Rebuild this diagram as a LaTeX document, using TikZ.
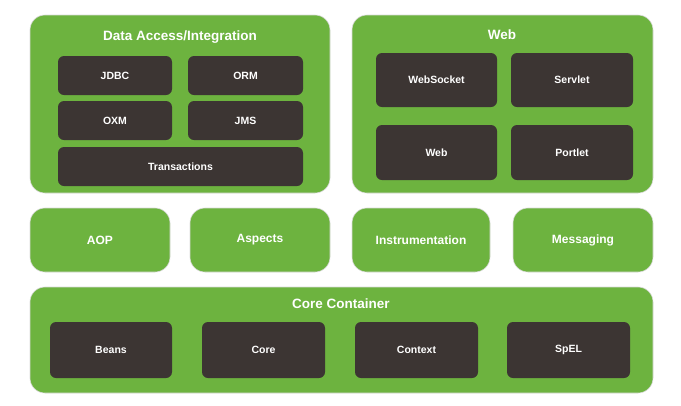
\documentclass[tikz,border=0pt]{standalone}
\usepackage{fontspec}
\setmainfont{Liberation Sans}
\definecolor{sgreen}{HTML}{6DB33F}
\definecolor{sdark}{HTML}{3C3533}
\begin{document}
\begin{tikzpicture}[x=1pt,y=-1pt,
  grp/.style={fill=sgreen,draw=black!15,line width=0.6pt,rounded corners=15pt,inner sep=0pt},
  mod/.style={fill=sdark,draw=none,rounded corners=6pt,text=white,font=\bfseries\fontsize{10.5}{12}\selectfont,inner sep=0pt},
  ttl/.style={text=white,font=\bfseries\fontsize{13.5}{16}\selectfont},
  mid/.style={text=white,font=\bfseries\fontsize{12}{14}\selectfont}]
\useasboundingbox (0,0) rectangle (681,405);
\newcommand{\bx}[6]{\path[#1] (#3,#4) rectangle (#5,#6) node[pos=0.5,#2]{};}
% groups
\draw[grp] (30,15) rectangle (330,193);
\node[ttl] (da) at (180,37) {Data Access/Integration};
\draw[grp] (352,15) rectangle (653,193);
\node[ttl] (web) at (502,35) {Web};
\draw[grp] (30,208) rectangle (170,272);
\node[mid] (aop) at (100,240) {AOP};
\draw[grp] (190,208) rectangle (330,272);
\node[mid] (asp) at (260,240) {Aspects};
\draw[grp] (352,208) rectangle (490,272);
\node[mid] (ins) at (421,240) {Instrumentation};
\draw[grp] (513,208) rectangle (653,272);
\node[mid] (msg) at (583,240) {Messaging};
\draw[grp] (30,287) rectangle (653,393);
\node[ttl] (cc) at (341,304) {Core Container};
% data access modules
\draw[mod] (58,56) rectangle (172,95) node[pos=.5,text=white,font=\bfseries\fontsize{10.5}{12}\selectfont] (jdbc) {JDBC};
\draw[mod] (188,56) rectangle (303,95) node[pos=.5,text=white,font=\bfseries\fontsize{10.5}{12}\selectfont] (orm) {ORM};
\draw[mod] (58,101) rectangle (172,140) node[pos=.5,text=white,font=\bfseries\fontsize{10.5}{12}\selectfont] (oxm) {OXM};
\draw[mod] (188,101) rectangle (303,140) node[pos=.5,text=white,font=\bfseries\fontsize{10.5}{12}\selectfont] (jms) {JMS};
\draw[mod] (58,147) rectangle (303,186) node[pos=.5,text=white,font=\bfseries\fontsize{10.5}{12}\selectfont] (tx) {Transactions};
% web modules
\draw[mod] (376,53) rectangle (497,107) node[pos=.5,text=white,font=\bfseries\fontsize{10.5}{12}\selectfont] (ws) {WebSocket};
\draw[mod] (511,53) rectangle (633,107) node[pos=.5,text=white,font=\bfseries\fontsize{10.5}{12}\selectfont] (srv) {Servlet};
\draw[mod] (376,125) rectangle (497,180) node[pos=.5,text=white,font=\bfseries\fontsize{10.5}{12}\selectfont] (wb) {Web};
\draw[mod] (511,125) rectangle (633,180) node[pos=.5,text=white,font=\bfseries\fontsize{10.5}{12}\selectfont] (prt) {Portlet};
% core modules
\draw[mod] (50,322) rectangle (172,378) node[pos=.5,text=white,font=\bfseries\fontsize{10.5}{12}\selectfont] (beans) {Beans};
\draw[mod] (202,322) rectangle (325,378) node[pos=.5,text=white,font=\bfseries\fontsize{10.5}{12}\selectfont] (core) {Core};
\draw[mod] (355,322) rectangle (478,378) node[pos=.5,text=white,font=\bfseries\fontsize{10.5}{12}\selectfont] (ctx) {Context};
\draw[mod] (507,322) rectangle (630,378) node[pos=.5,text=white,font=\bfseries\fontsize{10.5}{12}\selectfont] (spel) {SpEL};
\end{tikzpicture}
\end{document}
